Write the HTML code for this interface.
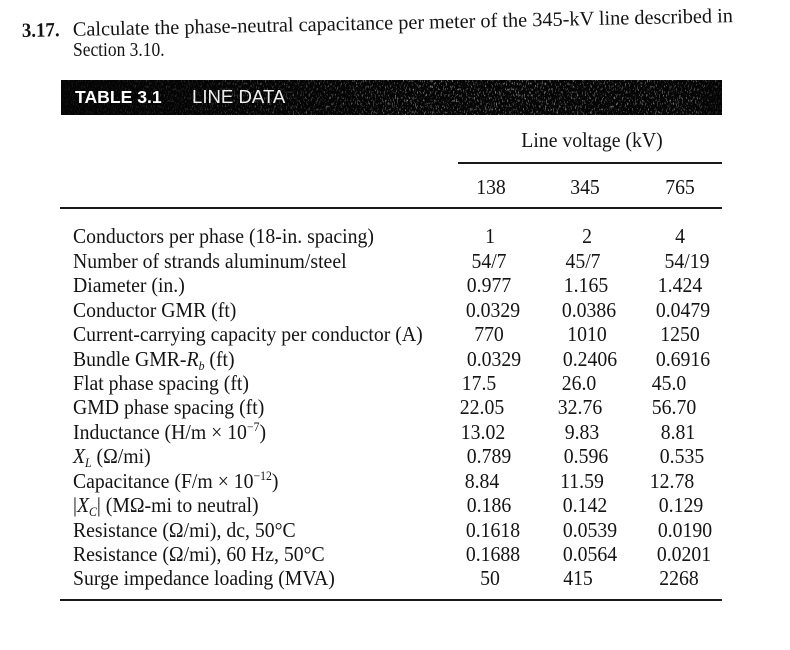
<!DOCTYPE html>
<html>
<head>
<meta charset="utf-8">
<style>
  html,body{margin:0;padding:0;background:#fff;}
  #pg{position:relative;width:790px;height:650px;overflow:hidden;background:#fff;color:#141414;
      font-family:"Liberation Serif","Times New Roman",serif;}
  .t{position:absolute;white-space:nowrap;line-height:20px;font-size:20px;}
  .row{position:absolute;left:0;width:790px;height:20px;}
  .lbl{position:absolute;left:73px;top:0;white-space:nowrap;font-size:21px;line-height:20px;
       transform:scaleX(0.94);transform-origin:0 50%;}
  .v{position:absolute;top:0;width:90px;text-align:center;white-space:nowrap;font-size:21px;line-height:20px;
     transform:scaleX(0.94);transform-origin:50% 50%;}
  sub,sup{font-size:12.5px;line-height:0;position:relative;vertical-align:baseline;}
  sub{top:4px;}
  sup{top:-8px;}
  .rule{position:absolute;background:#1a1a1a;}
</style>
</head>
<body>
<div id="pg">

  <!-- problem statement -->
  <div class="t" style="left:22px;top:21px;font-size:20.3px;transform:rotate(-1.2deg);transform-origin:0 17px;">
    <b style="display:inline-block;transform:scaleX(0.93);transform-origin:0 50%;">3.17.</b><span style="position:absolute;left:51px;top:0;">Calculate the phase-neutral capacitance per meter of the 345-kV line described in</span>
  </div>
  <div class="t" style="left:73px;top:40px;font-size:20.3px;transform:scaleX(0.86);transform-origin:0 50%;">Section 3.10.</div>

  <!-- black title bar -->
  <div style="position:absolute;left:61px;top:80px;width:661px;height:35px;background:#050505;overflow:hidden;">
    <svg width="661" height="35" style="position:absolute;left:0;top:0;">
      <defs>
        <filter id="nz" x="0" y="0" width="100%" height="100%">
          <feTurbulence type="fractalNoise" baseFrequency="0.9 0.35" numOctaves="2" seed="7"/>
          <feColorMatrix type="matrix" values="0 0 0 0 1  0 0 0 0 1  0 0 0 0 1  7 0 0 0 -4.1"/>
        </filter>
        <linearGradient id="gm" x1="0" x2="1" y1="0" y2="0">
          <stop offset="0" stop-color="#fff" stop-opacity="0.15"/>
          <stop offset="0.3" stop-color="#fff" stop-opacity="0.5"/>
          <stop offset="0.55" stop-color="#fff" stop-opacity="0.9"/>
          <stop offset="0.95" stop-color="#fff" stop-opacity="0.8"/>
          <stop offset="1" stop-color="#fff" stop-opacity="0.3"/>
        </linearGradient>
        <mask id="mk"><rect width="661" height="35" fill="url(#gm)"/></mask>
      </defs>
      <rect width="661" height="35" filter="url(#nz)" mask="url(#mk)" opacity="0.55"/>
    </svg>
    <div style="position:absolute;left:14px;top:6px;font-family:'Liberation Sans',Arial,sans-serif;color:#fff;font-size:17.6px;line-height:22px;font-weight:bold;white-space:nowrap;">TABLE 3.1</div>
    <div style="position:absolute;left:131px;top:6px;font-family:'Liberation Sans',Arial,sans-serif;color:#eee;font-size:18.6px;line-height:22px;white-space:nowrap;">LINE DATA</div>
  </div>

  <!-- header -->
  <div class="t" style="left:492px;top:130px;width:200px;text-align:center;font-size:21px;transform:scaleX(0.94);">Line voltage (kV)</div>
  <div class="rule" style="left:458px;top:162px;width:264px;height:1.5px;"></div>
  <div class="row" style="top:177px;">
    <span class="v" style="left:446px;">138</span>
    <span class="v" style="left:540px;">345</span>
    <span class="v" style="left:635px;">765</span>
  </div>
  <div class="rule" style="left:60px;top:207px;width:662px;height:2px;"></div>

  <!-- body rows -->
  <div class="row" style="top:226.4px;">
    <span class="lbl">Conductors per phase (18-in. spacing)</span>
    <span class="v" style="left:445px;">1</span><span class="v" style="left:542px;">2</span><span class="v" style="left:635px;">4</span>
  </div>
  <div class="row" style="top:250.8px;">
    <span class="lbl">Number of strands aluminum/steel</span>
    <span class="v" style="left:444px;">54/7</span><span class="v" style="left:538px;">45/7</span><span class="v" style="left:642px;">54/19</span>
  </div>
  <div class="row" style="top:275.2px;">
    <span class="lbl">Diameter (in.)</span>
    <span class="v" style="left:444px;">0.977</span><span class="v" style="left:541px;">1.165</span><span class="v" style="left:635px;">1.424</span>
  </div>
  <div class="row" style="top:299.7px;">
    <span class="lbl">Conductor GMR (ft)</span>
    <span class="v" style="left:448px;">0.0329</span><span class="v" style="left:544px;">0.0386</span><span class="v" style="left:638px;">0.0479</span>
  </div>
  <div class="row" style="top:324.1px;">
    <span class="lbl">Current-carrying capacity per conductor (A)</span>
    <span class="v" style="left:444px;">770</span><span class="v" style="left:542px;">1010</span><span class="v" style="left:635px;">1250</span>
  </div>
  <div class="row" style="top:348.5px;">
    <span class="lbl">Bundle GMR-<i>R</i><sub><i>b</i></sub> (ft)</span>
    <span class="v" style="left:449px;">0.0329</span><span class="v" style="left:545px;">0.2406</span><span class="v" style="left:638px;">0.6916</span>
  </div>
  <div class="row" style="top:373px;">
    <span class="lbl">Flat phase spacing (ft)</span>
    <span class="v" style="left:434px;">17.5</span><span class="v" style="left:534px;">26.0</span><span class="v" style="left:624px;">45.0</span>
  </div>
  <div class="row" style="top:397.4px;">
    <span class="lbl">GMD phase spacing (ft)</span>
    <span class="v" style="left:437px;">22.05</span><span class="v" style="left:535px;">32.76</span><span class="v" style="left:629px;">56.70</span>
  </div>
  <div class="row" style="top:421.8px;">
    <span class="lbl">Inductance (H/m × 10<sup>−7</sup>)</span>
    <span class="v" style="left:438px;">13.02</span><span class="v" style="left:537px;">9.83</span><span class="v" style="left:633px;">8.81</span>
  </div>
  <div class="row" style="top:446.3px;">
    <span class="lbl"><i>X</i><sub><i>L</i></sub> (Ω/mi)</span>
    <span class="v" style="left:444px;">0.789</span><span class="v" style="left:541px;">0.596</span><span class="v" style="left:637px;">0.535</span>
  </div>
  <div class="row" style="top:470.7px;">
    <span class="lbl">Capacitance (F/m × 10<sup>−12</sup>)</span>
    <span class="v" style="left:437px;">8.84</span><span class="v" style="left:537px;">11.59</span><span class="v" style="left:627px;">12.78</span>
  </div>
  <div class="row" style="top:495.1px;">
    <span class="lbl">|<i>X</i><sub><i>C</i></sub>| (MΩ-mi to neutral)</span>
    <span class="v" style="left:444px;">0.186</span><span class="v" style="left:540px;">0.142</span><span class="v" style="left:636px;">0.129</span>
  </div>
  <div class="row" style="top:519.6px;">
    <span class="lbl">Resistance (Ω/mi), dc, 50°C</span>
    <span class="v" style="left:448px;">0.1618</span><span class="v" style="left:545px;">0.0539</span><span class="v" style="left:640px;">0.0190</span>
  </div>
  <div class="row" style="top:544px;">
    <span class="lbl">Resistance (Ω/mi), 60 Hz, 50°C</span>
    <span class="v" style="left:448px;">0.1688</span><span class="v" style="left:545px;">0.0564</span><span class="v" style="left:639px;">0.0201</span>
  </div>
  <div class="row" style="top:568.4px;">
    <span class="lbl">Surge impedance loading (MVA)</span>
    <span class="v" style="left:445px;">50</span><span class="v" style="left:533px;">415</span><span class="v" style="left:634px;">2268</span>
  </div>

  <div class="rule" style="left:60px;top:599px;width:662px;height:2px;"></div>
</div>
</body>
</html>
